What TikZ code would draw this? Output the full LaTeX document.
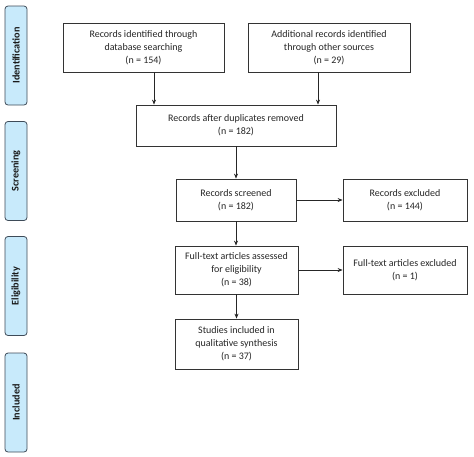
\documentclass[tikz,border=0pt]{standalone}
\usepackage{fontspec}
\setmainfont{Carlito}
\usepackage{xcolor}
\usepackage{tikz}
\usetikzlibrary{arrows.meta,positioning,calc}

\definecolor{stagefill}{HTML}{C8EAFB}
\definecolor{stageline}{HTML}{3E4B58}
\definecolor{boxline}{HTML}{333333}

\begin{document}
\begin{tikzpicture}[
    x=1pt, y=-1pt,
    font=\fontsize{10}{13}\selectfont,
    % boxes of the flow
    flowbox/.style={draw=boxline, line width=0.8pt, fill=white, align=center,
      inner sep=0pt, text=black!85},
    % stage labels at the left
    stagebar/.style={draw=stageline, line width=0.8pt, fill=stagefill,
      rounded corners=3pt, minimum width=22pt, minimum height=99pt,
      inner sep=0pt},
    stagetext/.style={rotate=90, font=\fontsize{10.2}{12}\selectfont\bfseries,
      text=black!90},
    flow/.style={-{Stealth[length=5pt,width=4pt]}, line width=0.7pt, black!85},
  ]
    \useasboundingbox (0,0) rectangle (474,456);

    % stages
    \node[stagebar] (ident) at (16,55.5) {};
    \node[stagetext] at (ident) {Identification};
    \node[stagebar] (screen) at (16,171) {};
    \node[stagetext] at (screen) {Screening};
    \node[stagebar] (elig) at (16,286) {};
    \node[stagetext] at (elig) {Eligibility};
    \node[stagebar] (incl) at (16,402.5) {};
    \node[stagetext] at (incl) {Included};

    % flow boxes
    \node[flowbox, minimum width=161pt, minimum height=49pt] (dbrec) at (143.5,47.5)
      {Records identified through\\database searching\\(n = 154)};
    \node[flowbox, minimum width=162pt, minimum height=49pt] (otherrec) at (329,47.5)
      {Additional records identified\\through other sources\\(n = 29)};
    \node[flowbox, minimum width=200pt, minimum height=41pt] (dedup) at (236,125.5)
      {Records after duplicates removed\\(n = 182)};
    \node[flowbox, minimum width=120pt, minimum height=42pt] (screened) at (236,200)
      {Records screened\\(n = 182)};
    \node[flowbox, minimum width=124pt, minimum height=42pt] (excl) at (405,200)
      {Records excluded\\(n = 144)};
    \node[flowbox, minimum width=123pt, minimum height=48pt] (fulltext) at (236.5,270)
      {Full-text articles assessed\\for eligibility\\(n = 38)};
    \node[flowbox, minimum width=124pt, minimum height=48pt] (ftexcl) at (405,270)
      {Full-text articles excluded\\(n = 1)};
    \node[flowbox, minimum width=123pt, minimum height=50pt] (included) at (236.5,344)
      {Studies included in\\qualitative synthesis\\(n = 37)};

    % connectors
    \draw[flow] ([xshift=10.5pt]dbrec.south) -- ([xshift=10.5pt]dbrec.south |- dedup.north);
    \draw[flow] ([xshift=-11pt]otherrec.south) -- ([xshift=-11pt]otherrec.south |- dedup.north);
    \draw[flow] (dedup) -- (screened);
    \draw[flow] (screened) -- (excl);
    \draw[flow] (screened.south) -- (screened.south |- fulltext.north);
    \draw[flow] (fulltext) -- (ftexcl);
    \draw[flow] (fulltext.south) -- (fulltext.south |- included.north);
\end{tikzpicture}
\end{document}
